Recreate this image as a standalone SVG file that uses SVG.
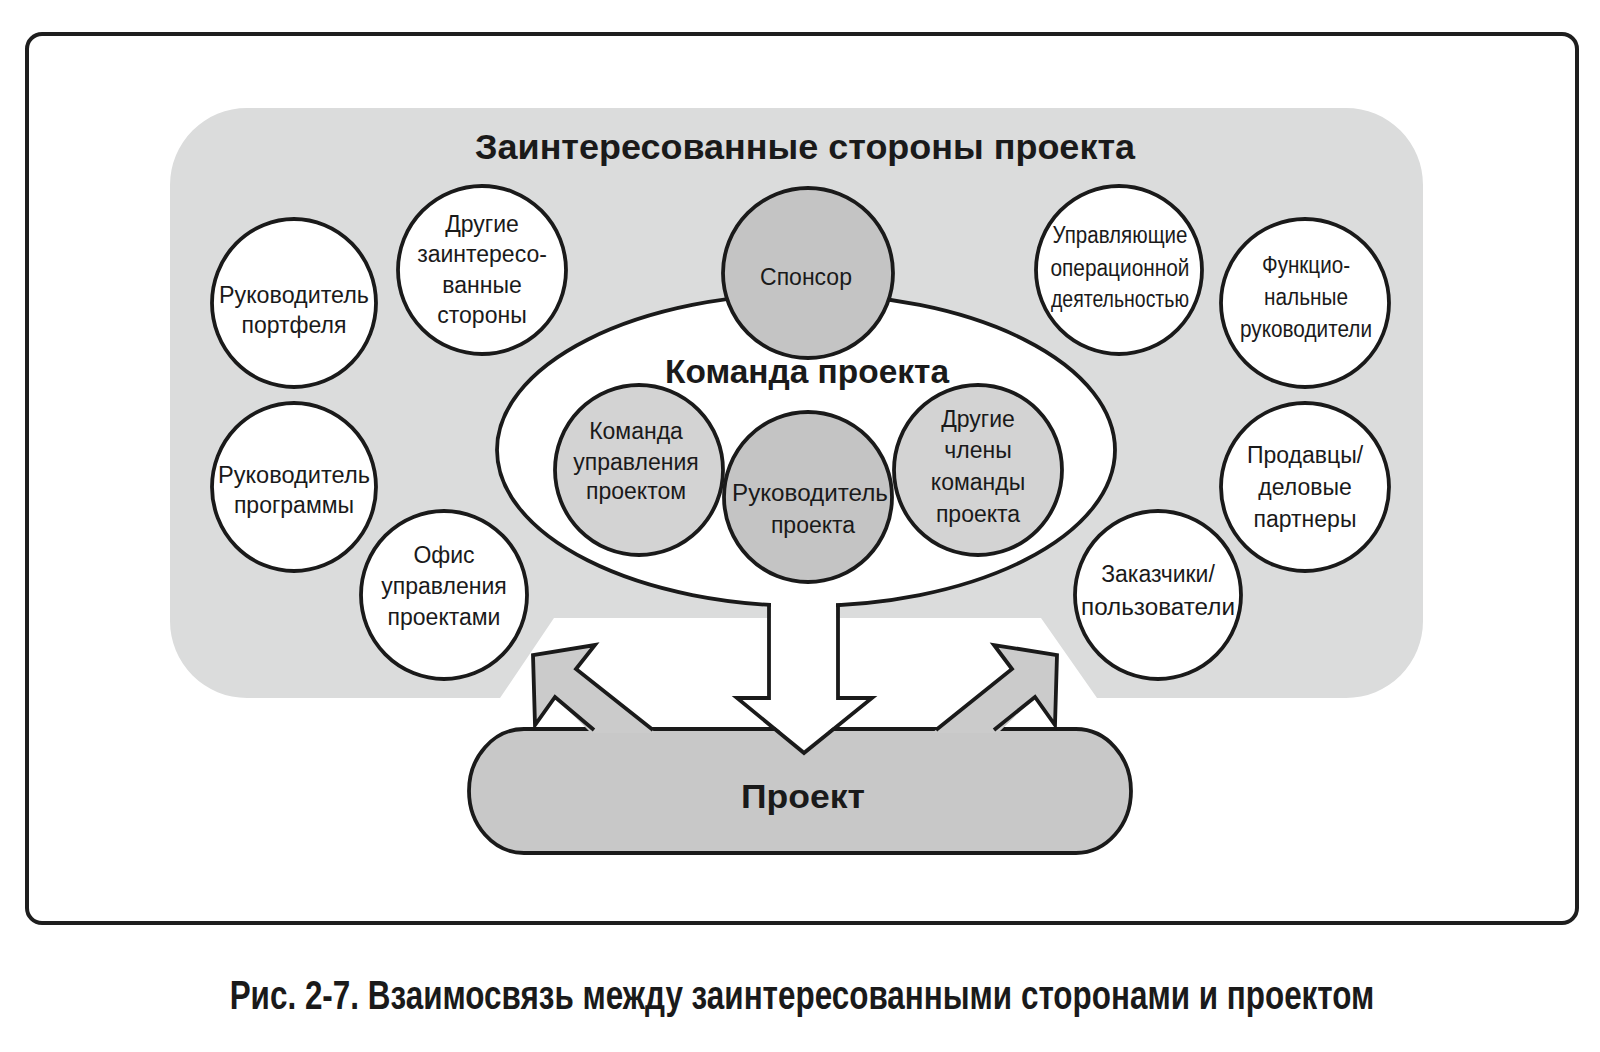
<svg xmlns="http://www.w3.org/2000/svg" width="1600" height="1052" viewBox="0 0 1600 1052">
<style>
.c{stroke:#1a1a1a;stroke-width:3.8}
.w{fill:#ffffff}
.l{fill:#d3d3d3}
.d{fill:#c4c4c4}
.t{font-family:"Liberation Sans",Arial,sans-serif;font-size:23px;fill:#1a1a1a;text-anchor:middle}
.b{font-family:"Liberation Sans",Arial,sans-serif;font-weight:bold;fill:#1a1a1a;text-anchor:middle}
.o{fill:none;stroke:#1a1a1a;stroke-width:3.8;stroke-linejoin:miter}
</style>
<rect x="0" y="0" width="1600" height="1052" fill="#ffffff"/>
<rect x="27" y="34" width="1550" height="889" rx="15" ry="15" fill="none" stroke="#1e1e1e" stroke-width="4"/>
<path id="stakeholders-area" d="M 247,108 H 1346 A 77 77 0 0 1 1423 185 V 621 A 77 77 0 0 1 1346 698 H 1097 L 1041 618 H 554 L 500 698 H 247 A 77 77 0 0 1 170 621 V 185 A 77 77 0 0 1 247 108 Z" fill="#dbdcdc"/>
<text class="b" x="805" y="159" font-size="35" textLength="660" lengthAdjust="spacingAndGlyphs">Заинтересованные стороны проекта</text>

<g id="team">
<ellipse class="c w" cx="806" cy="450" rx="309" ry="156"/>
<text class="b" x="807" y="383" font-size="34" textLength="284" lengthAdjust="spacingAndGlyphs">Команда проекта</text>
</g>

<g id="sponsor">
<circle class="c d" cx="808" cy="273" r="85"/>
<text class="t" x="806" y="285">Спонсор</text>
</g>

<g id="portfolio-manager">
<ellipse class="c w" cx="294" cy="303" rx="82" ry="84"/>
<text class="t" x="294" y="303" textLength="150" lengthAdjust="spacingAndGlyphs">Руководитель</text>
<text class="t" x="294" y="333">портфеля</text>
</g>

<g id="other-stakeholders">
<ellipse class="c w" cx="482" cy="270" rx="84" ry="84"/>
<text class="t" x="482" y="232">Другие</text>
<text class="t" x="482" y="262">заинтересо-</text>
<text class="t" x="482" y="293">ванные</text>
<text class="t" x="482" y="323">стороны</text>
</g>

<g id="operations-managers">
<ellipse class="c w" cx="1119" cy="270" rx="83" ry="84"/>
<text class="t" x="1120" y="243" textLength="135" lengthAdjust="spacingAndGlyphs">Управляющие</text>
<text class="t" x="1120" y="276" textLength="139" lengthAdjust="spacingAndGlyphs">операционной</text>
<text class="t" x="1120" y="307" textLength="138" lengthAdjust="spacingAndGlyphs">деятельностью</text>
</g>

<g id="functional-managers">
<ellipse class="c w" cx="1305" cy="303" rx="84" ry="84"/>
<text class="t" x="1306" y="273" textLength="88" lengthAdjust="spacingAndGlyphs">Функцио-</text>
<text class="t" x="1306" y="305" textLength="84" lengthAdjust="spacingAndGlyphs">нальные</text>
<text class="t" x="1306" y="337" textLength="132" lengthAdjust="spacingAndGlyphs">руководители</text>
</g>

<g id="program-manager">
<ellipse class="c w" cx="294" cy="487" rx="82" ry="84"/>
<text class="t" x="294" y="483" textLength="152" lengthAdjust="spacingAndGlyphs">Руководитель</text>
<text class="t" x="294" y="513">программы</text>
</g>

<g id="pmo">
<ellipse class="c w" cx="444" cy="595" rx="83" ry="84"/>
<text class="t" x="444" y="563">Офис</text>
<text class="t" x="444" y="594">управления</text>
<text class="t" x="444" y="625">проектами</text>
</g>

<g id="vendors">
<ellipse class="c w" cx="1305" cy="487" rx="84" ry="84"/>
<text class="t" x="1305" y="463">Продавцы/</text>
<text class="t" x="1305" y="495">деловые</text>
<text class="t" x="1305" y="527">партнеры</text>
</g>

<g id="customers">
<ellipse class="c w" cx="1158" cy="595" rx="83" ry="84"/>
<text class="t" x="1158" y="582">Заказчики/</text>
<text class="t" x="1158" y="615" textLength="154" lengthAdjust="spacingAndGlyphs">пользователи</text>
</g>

<g id="pm-team">
<ellipse class="c l" cx="639" cy="470" rx="84" ry="85"/>
<text class="t" x="636" y="439">Команда</text>
<text class="t" x="636" y="470">управления</text>
<text class="t" x="636" y="499">проектом</text>
</g>

<g id="other-members">
<ellipse class="c l" cx="978" cy="470" rx="84" ry="85"/>
<text class="t" x="978" y="427">Другие</text>
<text class="t" x="978" y="458">члены</text>
<text class="t" x="978" y="490">команды</text>
<text class="t" x="978" y="522">проекта</text>
</g>

<g id="project-manager">
<ellipse class="c d" cx="808" cy="497" rx="84" ry="85"/>
<text class="t" x="810" y="501" textLength="156" lengthAdjust="spacingAndGlyphs">Руководитель</text>
<text class="t" x="813" y="533">проекта</text>
</g>

<g id="project">
<rect class="c" x="469" y="729" width="662" height="124" rx="55" ry="62" fill="#c8c8c8"/>
</g>

<g id="connectors">
<polygon points="656,733 576,669 595,645 533,655 535,725 555,697 591,733" fill="#cbcbcb"/>
<polyline class="o" points="653,730 576,669 595,645 533,655 535,725 555,697 594,730"/>
<polygon points="932,733 1012,669 994,645 1057,655 1055,725 1035,697 998,733" fill="#cbcbcb"/>
<polyline class="o" points="936,730 1012,669 994,645 1057,655 1055,725 1035,697 994,730"/>
<polygon points="771,596 836,596 836,700 868,700 804,750 741,700 771,700" fill="#ffffff"/>
<polyline class="o" points="769,604 769,698 737,698 804,753 872,698 838,698 838,604"/>
</g>
<text class="b" x="803" y="808" font-size="33" textLength="124" lengthAdjust="spacingAndGlyphs">Проект</text>

<g transform="translate(802,1009) scale(0.79,1)">
<text class="b" x="0" y="0" font-size="40" textLength="1449" lengthAdjust="spacingAndGlyphs">Рис. 2-7. Взаимосвязь между заинтересованными сторонами и проектом</text>
</g>
</svg>
